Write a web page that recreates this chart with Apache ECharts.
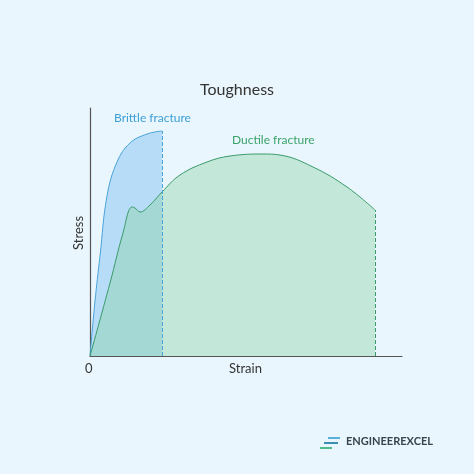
<!DOCTYPE html><html><head><meta charset="utf-8"><script src="https://cdn.jsdelivr.net/npm/echarts@6/dist/echarts.min.js"></script>
<style>html,body{margin:0;background:#eaf6fd}#c{width:474px;height:474px}</style></head><body><div id="c"></div><script>
const brittle=[[0,0],[5,55],[10,100],[17,160],[27,194],[40,213],[57,222],[72,225]];
const ductile=[[0,0],[20,73],[33,123],[42,149],[45,148],[50,144],[60,151],[72,164],[90,181],[117,194],[140,200],[173,202],[190,201],[223,189],[257,169],[285,146]];
const brittleEnd=72, ductileEnd=285;
const c=echarts.init(document.getElementById('c'));
const ax={axisLine:{lineStyle:{color:'#555',width:1.2}},axisTick:{show:false},axisLabel:{show:false},splitLine:{show:false}};
c.setOption({backgroundColor:'#eaf6fd',animation:false,
title:{text:'Toughness',left:'center',top:77,textStyle:{fontFamily:'Lato',fontSize:16,fontWeight:'normal',color:'#333'}},
grid:{left:90,top:108,width:312,height:248},
xAxis:Object.assign({type:'value',min:0,max:312},ax),
yAxis:Object.assign({type:'value',min:0,max:248},ax),
series:[
{type:'line',data:brittle,smooth:0.4,symbol:'none',lineStyle:{color:'#4aa3d8',width:1},areaStyle:{color:'rgba(140,200,245,0.8)'},
 markLine:{symbol:'none',silent:true,label:{show:false},lineStyle:{color:'#4aa3d8',type:'dashed',width:1},data:[[{coord:[brittleEnd,0]},{coord:[brittleEnd,brittle[brittle.length-1][1]]}]]}},
{type:'line',data:ductile,smooth:0.4,symbol:'none',lineStyle:{color:'#3a9a6a',width:1},areaStyle:{color:'rgba(140,210,165,0.6)'},
 markLine:{symbol:'none',silent:true,label:{show:false},lineStyle:{color:'#3a9a6a',type:'dashed',width:1},data:[[{coord:[ductileEnd,0]},{coord:[ductileEnd,ductile[ductile.length-1][1]]}]]}}
],
graphic:[
{type:'text',left:85,top:362,style:{text:'0',font:'13px Lato',fill:'#333'}},
{type:'text',left:229,top:362,style:{text:'Strain',font:'13px Lato',fill:'#333'}},
{type:'text',x:72,y:250,rotation:Math.PI/2,style:{text:'Stress',font:'13px Lato',fill:'#333'}},
{type:'text',left:114,top:112,style:{text:'Brittle fracture',font:'12px Lato',fill:'#3b9fd6'}},
{type:'text',left:232,top:134,style:{text:'Ductile fracture',font:'12px Lato',fill:'#3aa36a'}},
{type:'text',left:346,top:436,style:{text:'ENGINEEREXCEL',font:'bold 11px Lato',fill:'#3a4450'}},
{type:'rect',shape:{x:328,y:437,width:12,height:2},style:{fill:'#5ab0d8'}},
{type:'rect',shape:{x:324,y:442,width:14,height:2},style:{fill:'#3b8fb0'}},
{type:'rect',shape:{x:320,y:447,width:12,height:2},style:{fill:'#4dbb8a'}}
]});
</script></body></html>
